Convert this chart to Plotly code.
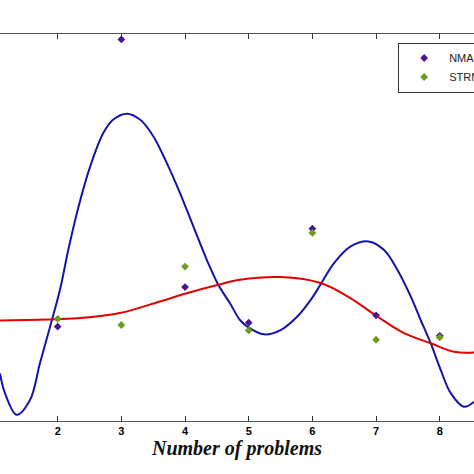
import plotly.graph_objects as go

# observed points
problems = [2, 3, 4, 5, 6, 7, 8]
nma_vals = [2.44, 9.86, 3.46, 2.54, 4.97, 2.73, 2.20]
strm_vals = [2.64, 2.48, 3.99, 2.34, 4.86, 2.10, 2.16]

# fitted curves (drawn as splines)
blue_x = [1.094, 1.172, 1.356, 1.565, 1.722, 1.879, 2.036, 2.166, 2.324, 2.507,
          2.716, 2.873, 3.084, 3.293, 3.501, 3.712, 3.921, 4.130, 4.340, 4.522,
          4.706, 4.863, 4.978, 5.240, 5.502, 5.763, 5.974, 6.140, 6.340, 6.602,
          6.878, 7.125, 7.334, 7.544, 7.701, 7.858, 8.015, 8.172, 8.381, 8.538]
blue_y = [1.23, 0.72, 0.16, 0.54, 1.50, 2.43, 3.39, 4.42, 5.52, 6.56,
          7.44, 7.79, 7.94, 7.79, 7.36, 6.67, 5.89, 5.03, 4.17, 3.52,
          3.04, 2.61, 2.44, 2.24, 2.35, 2.70, 3.13, 3.56, 4.08, 4.51,
          4.64, 4.42, 3.91, 3.22, 2.61, 2.01, 1.32, 0.72, 0.37, 0.50]
red_x = [1.094, 2.350, 2.978, 3.607, 4.026, 4.522, 4.863, 5.502, 6.140,
         6.602, 7.020, 7.440, 7.858, 8.224, 8.538]
red_y = [2.60, 2.66, 2.79, 3.09, 3.30, 3.52, 3.65, 3.72, 3.56,
         3.17, 2.70, 2.27, 2.01, 1.79, 1.77]

fig = go.Figure()
fig.add_trace(go.Scatter(x=blue_x, y=blue_y, mode="lines",
                         line=dict(color="#1414a8", width=2, shape="spline", smoothing=1.0),
                         showlegend=False))
fig.add_trace(go.Scatter(x=red_x, y=red_y, mode="lines",
                         line=dict(color="#e00000", width=2, shape="spline", smoothing=1.0),
                         showlegend=False))
fig.add_trace(go.Scatter(x=problems, y=nma_vals, mode="markers", name="NMAE",
                         marker=dict(symbol="diamond", size=6, color="#4a1590")))
fig.add_trace(go.Scatter(x=problems, y=strm_vals, mode="markers", name="STRMAE",
                         marker=dict(symbol="diamond", size=6, color="#6e9c1c")))

fig.update_layout(
    width=474, height=474,
    margin=dict(l=0, r=0, t=34, b=53, autoexpand=False),
    paper_bgcolor="white", plot_bgcolor="white",
    legend=dict(x=0.84, y=0.978, xanchor="left", yanchor="top",
                bordercolor="#333333", borderwidth=1, bgcolor="white",
                font=dict(family="Liberation Sans, Arial", size=11, color="#222222"),
                itemwidth=40, tracegroupgap=0),
)
fig.update_xaxes(
    range=[1.094, 8.538], automargin=False,
    tickvals=[2, 3, 4, 5, 6, 7, 8],
    ticks="inside", ticklen=5, tickcolor="#333333",
    showline=True, linecolor="#555555", linewidth=1, mirror="ticks",
    showgrid=False, zeroline=False,
    tickfont=dict(family="Liberation Sans, Arial", size=11, color="black", weight="bold"),
    title=dict(text="Number of problems", standoff=2,
               font=dict(family="Liberation Serif, serif", size=20, color="#111111",
                         weight="bold", style="italic")),
)
fig.update_yaxes(
    range=[0, 10], automargin=False,
    showticklabels=False, showgrid=False, zeroline=False, showline=False, ticks="",
)

# drop the default page margin so the figure sits at the window corner
fig.write_html("out.html", config={"displayModeBar": False},
               post_script="document.body.style.margin='0';")
